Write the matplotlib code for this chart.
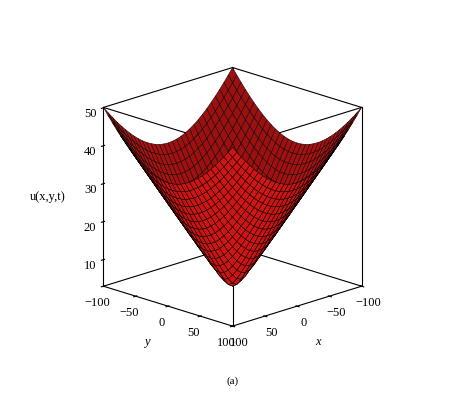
import numpy as np
import matplotlib
matplotlib.use('Agg')
import matplotlib.pyplot as plt

plt.rcParams['font.family'] = 'Liberation Serif'
plt.rcParams['font.size'] = 9

# surface u(x,y,t) sampled on the grid shown in the picture
xs = np.linspace(-100, 100, 31)
ys = np.linspace(-100, 100, 31)
X, Y = np.meshgrid(xs, ys)
U = np.sqrt(9 + (X**2 + Y**2) / 8.0)

ticks_xy = [-100, -50, 0, 50, 100]
ticks_z = [10, 20, 30, 40, 50]

fig = plt.figure(figsize=(4.66, 4.0), dpi=100)
ax = fig.add_axes([0.075, 0.11, 0.83, 0.775], projection='3d')
ax.set_proj_type('ortho')
ax.plot_surface(X, Y, U, color='#f01818', edgecolor='black', linewidth=0.35,
                shade=True, antialiased=True)
ax.view_init(elev=18, azim=45)

zlo, zhi = U.min(), U.max()
ax.set_xlim(-100, 100)
ax.set_ylim(-100, 100)
ax.set_zlim(zlo, zhi)
ax.set_box_aspect((1, 1, 1.03))

# box frame
c = [-100, 100]
for a in c:
    for b in c:
        ax.plot([a, a], [b, b], [zlo, zhi], color='black', lw=0.8)
        zz = zlo if b < 0 else zhi
        ax.plot([a, a], [-100, 100], [zz, zz], color='black', lw=0.8)
        ax.plot([-100, 100], [a, a], [zz, zz], color='black', lw=0.8)

for axis in (ax.xaxis, ax.yaxis, ax.zaxis):
    axis.pane.set_visible(False)
    axis.line.set_visible(False)
    axis._axinfo['grid']['linewidth'] = 0
ax.grid(False)
ax.set_xticks(ticks_xy)
ax.set_yticks(ticks_xy)
ax.set_zticks(ticks_z)
ax.set_xlabel('x', style='italic', labelpad=-2)
ax.set_ylabel('y', style='italic', labelpad=-2)
ax.zaxis.set_rotate_label(False)
ax.set_zlabel('u(x,y,t)', labelpad=4, rotation=0)
ax.tick_params(pad=-2)

fig.text(0.5, 0.04, '(a)', ha='center', fontsize=8)
fig.savefig('out.png', dpi=100)
